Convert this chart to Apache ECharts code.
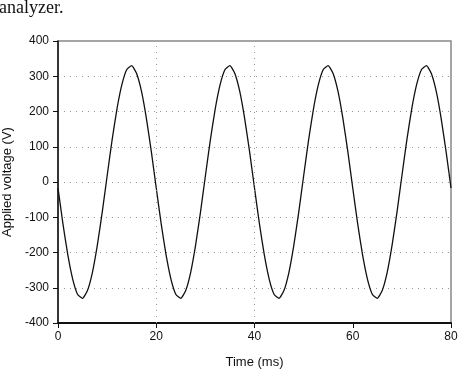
<!DOCTYPE html>
<html>
<head>
<meta charset="utf-8">
<script src="https://cdn.jsdelivr.net/npm/echarts@6/dist/echarts.min.js"></script>
<style>
html,body{margin:0;padding:0;background:#fff;}
#chart{width:474px;height:372px;}
</style>
</head>
<body>
<div id="chart"></div>
<script>
// time samples (ms)
var timeMs = [0,1,2,3,4,5,6,7,8,9,10,11,12,13,14,15,16,17,18,19,
  20,21,22,23,24,25,26,27,28,29,30,31,32,33,34,35,36,37,38,39,
  40,41,42,43,44,45,46,47,48,49,50,51,52,53,54,55,56,57,58,59,
  60,61,62,63,64,65,66,67,68,69,70,71,72,73,74,75,76,77,78,79,80];
// applied voltage (V)
var voltage = [-17,-118,-207,-276,-319,-330,-308,-257,-180,-86,17,118,207,276,319,330,308,257,180,86,
  -17,-118,-207,-276,-319,-330,-308,-257,-180,-86,17,118,207,276,319,330,308,257,180,86,
  -17,-118,-207,-276,-319,-330,-308,-257,-180,-86,17,118,207,276,319,330,308,257,180,86,
  -17,-118,-207,-276,-319,-330,-308,-257,-180,-86,17,118,207,276,319,330,308,257,180,86,-17];
var xTicks = [0,20,40,60,80];
var yTicks = [-400,-300,-200,-100,0,100,200,300,400];
var verticalGrid = [20,40];
var captionText = 'analyzer.';
var xTitle = 'Time (ms)';
var yTitle = 'Applied voltage (V)';

var pts = timeMs.map(function(t,i){return [t, voltage[i]];});
var chart = echarts.init(document.getElementById('chart'), null, {renderer:'canvas'});
var font = 'Liberation Sans, Arial, sans-serif';
chart.setOption({
  animation:false,
  backgroundColor:'#fff',
  graphic:[{type:'text', left:-1, top:-1, style:{text:captionText, font:'18px "Liberation Serif", "Times New Roman", serif', fill:'#111'}}],
  grid:{left:58, right:23, top:41, bottom:49, containLabel:false, outerBoundsMode:'none',
    show:true, borderColor:'#888', borderWidth:1.5, backgroundColor:'transparent'},
  xAxis:{type:'value', min:xTicks[0], max:xTicks[xTicks.length-1], interval:20,
    name:xTitle, nameLocation:'middle', nameGap:33,
    nameTextStyle:{fontFamily:font, fontSize:13, color:'#111'},
    axisLine:{show:true, onZero:false, lineStyle:{color:'#111', width:2}},
    axisTick:{show:true, length:5, lineStyle:{color:'#111', width:1}},
    axisLabel:{margin:8, fontFamily:font, fontSize:12, color:'#111'},
    splitLine:{show:false}},
  yAxis:{type:'value', min:yTicks[0], max:yTicks[yTicks.length-1], interval:100,
    name:yTitle, nameLocation:'middle', nameGap:42,
    nameTextStyle:{fontFamily:font, fontSize:13, color:'#111'},
    axisLine:{show:true, onZero:false, lineStyle:{color:'#111', width:1.5}},
    axisTick:{show:true, length:5, lineStyle:{color:'#111', width:1}},
    axisLabel:{margin:9, fontFamily:font, fontSize:12, color:'#111'},
    splitLine:{show:true, showMinLine:false, showMaxLine:false, lineStyle:{color:'#999', width:1, type:[1,5]}}},
  series:[{type:'line', data:pts, smooth:0.15, symbol:'none',
    lineStyle:{color:'#111', width:1.3},
    markLine:{silent:true, symbol:'none', label:{show:false},
      lineStyle:{color:'#999', width:1, type:[1,5]},
      data:verticalGrid.map(function(v){return {xAxis:v};})}
  }]
});
</script>
</body>
</html>
